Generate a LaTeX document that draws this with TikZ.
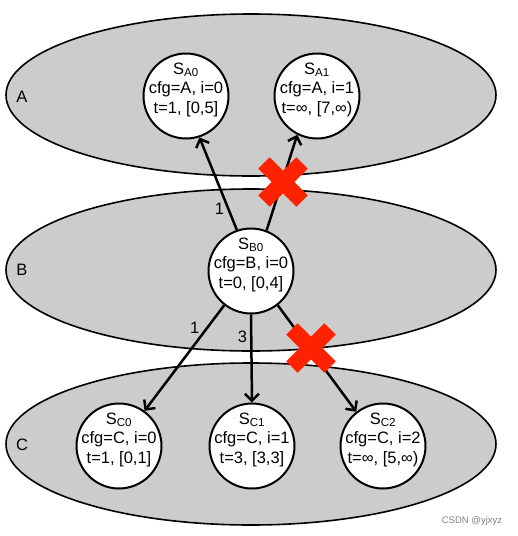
\documentclass[tikz,border=0pt]{standalone}
\usepackage{fontspec}
\setmainfont{Liberation Sans}
\usetikzlibrary{shapes.geometric,arrows.meta}

\definecolor{groupgray}{RGB}{204,204,204}
\definecolor{xred}{RGB}{255,34,0}

\begin{document}
\begin{tikzpicture}[x=1pt,y=-1pt,
    group/.style={ellipse, draw, line width=1.6pt, fill=groupgray,
        minimum width=490pt, minimum height=162pt, inner sep=0pt},
    state/.style={circle, draw, line width=2pt, fill=white, minimum size=85pt,
        inner sep=-14pt, align=center, text depth=16pt, font=\fontsize{16.5}{19.5}\selectfont},
    grouplabel/.style={font=\fontsize{16.5}{19.5}\selectfont},
    cost/.style={font=\fontsize{16.5}{19.5}\selectfont, inner sep=1pt},
    move/.style={line width=2.5pt, -{Straight Barb[length=7pt,width=14pt,line width=2.5pt]}},
    xbar/.style={rectangle, fill=xred, minimum width=54pt, minimum height=16pt, inner sep=0pt}
]

            \useasboundingbox (0,0) rectangle (518,536);

            % the three groups
            \node[group] (grpA) at (251,95) {};
            \node[group] (grpB) at (251,270) {};
            \node[group] (grpC) at (251,444) {};

            \node[grouplabel] (labA) at (22,97) {A};
            \node[grouplabel] (labB) at (22,270) {B};
            \node[grouplabel] (labC) at (22,445) {C};

            % states
            \node[state] (sA0) at (186,96) {S\textsubscript{A0}\\cfg=A, i=0\\t=1, [0,5]};
            \node[state] (sA1) at (317,96) {S\textsubscript{A1}\\cfg=A, i=1\\t=∞, [7,∞)};

            \node[state] (sB0) at (251,271) {S\textsubscript{B0}\\cfg=B, i=0\\t=0, [0,4]};

            \node[state] (sC0) at (119,446) {S\textsubscript{C0}\\cfg=C, i=0\\t=1, [0,1]};
            \node[state] (sC1) at (252,446) {S\textsubscript{C1}\\cfg=C, i=1\\t=3, [3,3]};
            \node[state] (sC2) at (383,446) {S\textsubscript{C2}\\cfg=C, i=2\\t=∞, [5,∞)};

            % moves
            \draw[move] (sB0.109) -- node[cost, pos=0.23, left=2pt] {1} (sA0.288);
            \draw[move] (sB0.69) -- (sA1.243);

            \draw[move] (sB0.232) -- node[cost, pos=0.21, left=6pt] {1} (sC0.54);
            \draw[move] (sB0.270) -- node[cost, pos=0.25, left=2pt] {3} (sC1.90);
            \draw[move] (sB0.308) -- (sC2.128);

            % crossed out moves
            \node[xbar, rotate=45] (xA1a) at (283,182) {};
            \node[xbar, rotate=-45] (xA1b) at (283,182) {};

            \node[xbar, rotate=45] (xC2a) at (311,348) {};
            \node[xbar, rotate=-45] (xC2b) at (311,348) {};

            \node[font=\fontsize{9.5}{11}\selectfont, text=gray] (mark) at (472,521) {CSDN @yjxyz};

\end{tikzpicture}
\end{document}
